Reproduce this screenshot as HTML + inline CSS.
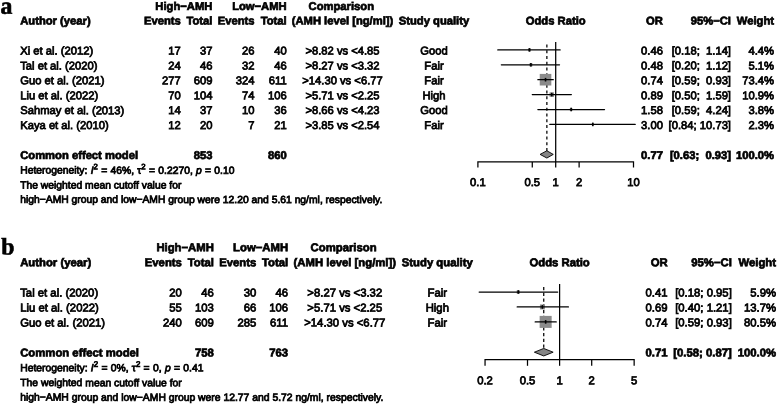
<!DOCTYPE html>
<html><head><meta charset="utf-8"><title>Forest plot</title>
<style>
html,body{margin:0;padding:0;background:#fff;}
body{width:777px;height:405px;overflow:hidden;}
svg{display:block;}
text{font-family:"Liberation Sans",Arial,Helvetica,sans-serif;fill:#000;stroke:#000;stroke-width:0.75px;}
.b{font-weight:bold;stroke-width:0.7px;}
.i{font-style:italic;}
.lab{font-family:"Liberation Serif","Times New Roman",serif;font-weight:bold;stroke-width:0.6px;}
.r{text-anchor:end;}
.c{text-anchor:middle;}
.ln{stroke:#000;stroke-width:1.25;fill:none;}
</style></head><body>
<svg width="777" height="405" viewBox="0 0 777 405">
<rect width="777" height="405" fill="#fff"/>
<g font-size="11.22">
<text x="0.6" y="13.8" transform="rotate(0.03 0.6 13.8)" class="lab" font-size="23.8">a</text>
<text x="20.2" y="24.6" transform="rotate(0.03 20.2 24.6)" class="b">Author (year)</text>
<text x="212.4" y="9.9" transform="rotate(0.03 212.4 9.9)" class="b r">High−AMH</text>
<text x="180.8" y="24.6" transform="rotate(0.03 180.8 24.6)" class="b r">Events</text>
<text x="212.4" y="24.6" transform="rotate(0.03 212.4 24.6)" class="b r">Total</text>
<text x="286.7" y="9.9" transform="rotate(0.03 286.7 9.9)" class="b r">Low−AMH</text>
<text x="254.5" y="24.6" transform="rotate(0.03 254.5 24.6)" class="b r">Events</text>
<text x="286.7" y="24.6" transform="rotate(0.03 286.7 24.6)" class="b r">Total</text>
<text x="341.3" y="9.9" transform="rotate(0.03 341.3 9.9)" class="b c">Comparison</text>
<text x="342.5" y="24.6" transform="rotate(0.03 342.5 24.6)" class="b c">(AMH level [ng/ml])</text>
<text x="434" y="24.6" transform="rotate(0.03 434 24.6)" class="b c">Study quality</text>
<text x="555.7" y="24.6" transform="rotate(0.03 555.7 24.6)" class="b c">Odds Ratio</text>
<text x="662.9" y="24.6" transform="rotate(0.03 662.9 24.6)" class="b r">OR</text>
<text x="731" y="24.6" transform="rotate(0.03 731 24.6)" class="b r">95%−CI</text>
<text x="774" y="24.6" transform="rotate(0.03 774 24.6)" class="b r">Weight</text>
<line x1="555.7" y1="42.1" x2="555.7" y2="161.9" class="ln"/>
<line x1="546.87" y1="44.4" x2="546.87" y2="158" class="ln" stroke-dasharray="3.2 2.55"/>
<rect x="528.04" y="48.48" width="2.84" height="2.84" fill="#8b8b8b"/>
<rect x="529.37" y="63.27" width="3.06" height="3.06" fill="#8b8b8b"/>
<rect x="539.73" y="73.9" width="11.6" height="11.6" fill="#8b8b8b"/>
<rect x="549.53" y="92.36" width="4.47" height="4.47" fill="#8b8b8b"/>
<rect x="569.84" y="108.18" width="2.64" height="2.64" fill="#8b8b8b"/>
<rect x="591.79" y="123.37" width="2.05" height="2.05" fill="#8b8b8b"/>
<text x="20.2" y="54.5" transform="rotate(0.03 20.2 54.5)">Xi et al. (2012)</text>
<text x="180.8" y="54.5" transform="rotate(0.03 180.8 54.5)" class="r">17</text>
<text x="212.4" y="54.5" transform="rotate(0.03 212.4 54.5)" class="r">37</text>
<text x="254.5" y="54.5" transform="rotate(0.03 254.5 54.5)" class="r">26</text>
<text x="286.7" y="54.5" transform="rotate(0.03 286.7 54.5)" class="r">40</text>
<text x="342.5" y="54.5" transform="rotate(0.03 342.5 54.5)" class="c">&gt;8.82 vs &lt;4.85</text>
<text x="434" y="54.5" transform="rotate(0.03 434 54.5)" class="c">Good</text>
<line x1="497.76" y1="49.9" x2="560.13" y2="49.9" class="ln" stroke-linecap="round"/>
<rect x="528.66" y="48.1" width="1.6" height="3.6" fill="#000"/>
<text x="662.9" y="54.5" transform="rotate(0.03 662.9 54.5)" class="r">0.46</text>
<text x="731" y="54.5" transform="rotate(0.03 731 54.5)" class="r" xml:space="preserve">[0.18;  1.14]</text>
<text x="774" y="54.5" transform="rotate(0.03 774 54.5)" class="r">4.4%</text>
<text x="20.2" y="69.4" transform="rotate(0.03 20.2 69.4)">Tal et al. (2020)</text>
<text x="180.8" y="69.4" transform="rotate(0.03 180.8 69.4)" class="r">24</text>
<text x="212.4" y="69.4" transform="rotate(0.03 212.4 69.4)" class="r">46</text>
<text x="254.5" y="69.4" transform="rotate(0.03 254.5 69.4)" class="r">32</text>
<text x="286.7" y="69.4" transform="rotate(0.03 286.7 69.4)" class="r">46</text>
<text x="342.5" y="69.4" transform="rotate(0.03 342.5 69.4)" class="c">&gt;8.27 vs &lt;3.32</text>
<text x="434" y="69.4" transform="rotate(0.03 434 69.4)" class="c">Fair</text>
<line x1="501.32" y1="64.8" x2="559.53" y2="64.8" class="ln" stroke-linecap="round"/>
<rect x="530.1" y="63" width="1.6" height="3.6" fill="#000"/>
<text x="662.9" y="69.4" transform="rotate(0.03 662.9 69.4)" class="r">0.48</text>
<text x="731" y="69.4" transform="rotate(0.03 731 69.4)" class="r" xml:space="preserve">[0.20;  1.12]</text>
<text x="774" y="69.4" transform="rotate(0.03 774 69.4)" class="r">5.1%</text>
<text x="20.2" y="84.3" transform="rotate(0.03 20.2 84.3)">Guo et al. (2021)</text>
<text x="180.8" y="84.3" transform="rotate(0.03 180.8 84.3)" class="r">277</text>
<text x="212.4" y="84.3" transform="rotate(0.03 212.4 84.3)" class="r">609</text>
<text x="254.5" y="84.3" transform="rotate(0.03 254.5 84.3)" class="r">324</text>
<text x="286.7" y="84.3" transform="rotate(0.03 286.7 84.3)" class="r">611</text>
<text x="342.5" y="84.3" transform="rotate(0.03 342.5 84.3)" class="c">&gt;14.30 vs &lt;6.77</text>
<text x="434" y="84.3" transform="rotate(0.03 434 84.3)" class="c">Fair</text>
<line x1="537.87" y1="79.7" x2="553.25" y2="79.7" class="ln" stroke-linecap="round"/>
<rect x="544.73" y="77.9" width="1.6" height="3.6" fill="#000"/>
<text x="662.9" y="84.3" transform="rotate(0.03 662.9 84.3)" class="r">0.74</text>
<text x="731" y="84.3" transform="rotate(0.03 731 84.3)" class="r" xml:space="preserve">[0.59;  0.93]</text>
<text x="774" y="84.3" transform="rotate(0.03 774 84.3)" class="r">73.4%</text>
<text x="20.2" y="99.2" transform="rotate(0.03 20.2 99.2)">Liu et al. (2022)</text>
<text x="180.8" y="99.2" transform="rotate(0.03 180.8 99.2)" class="r">70</text>
<text x="212.4" y="99.2" transform="rotate(0.03 212.4 99.2)" class="r">104</text>
<text x="254.5" y="99.2" transform="rotate(0.03 254.5 99.2)" class="r">74</text>
<text x="286.7" y="99.2" transform="rotate(0.03 286.7 99.2)" class="r">106</text>
<text x="342.5" y="99.2" transform="rotate(0.03 342.5 99.2)" class="c">&gt;5.71 vs &lt;2.25</text>
<text x="434" y="99.2" transform="rotate(0.03 434 99.2)" class="c">High</text>
<line x1="532.28" y1="94.6" x2="571.37" y2="94.6" class="ln" stroke-linecap="round"/>
<rect x="550.96" y="92.8" width="1.6" height="3.6" fill="#000"/>
<text x="662.9" y="99.2" transform="rotate(0.03 662.9 99.2)" class="r">0.89</text>
<text x="731" y="99.2" transform="rotate(0.03 731 99.2)" class="r" xml:space="preserve">[0.50;  1.59]</text>
<text x="774" y="99.2" transform="rotate(0.03 774 99.2)" class="r">10.9%</text>
<text x="20.2" y="114.1" transform="rotate(0.03 20.2 114.1)">Sahmay et al. (2013)</text>
<text x="180.8" y="114.1" transform="rotate(0.03 180.8 114.1)" class="r">14</text>
<text x="212.4" y="114.1" transform="rotate(0.03 212.4 114.1)" class="r">37</text>
<text x="254.5" y="114.1" transform="rotate(0.03 254.5 114.1)" class="r">10</text>
<text x="286.7" y="114.1" transform="rotate(0.03 286.7 114.1)" class="r">36</text>
<text x="342.5" y="114.1" transform="rotate(0.03 342.5 114.1)" class="c">&gt;8.66 vs &lt;4.23</text>
<text x="434" y="114.1" transform="rotate(0.03 434 114.1)" class="c">Good</text>
<line x1="537.87" y1="109.5" x2="604.51" y2="109.5" class="ln" stroke-linecap="round"/>
<rect x="570.36" y="107.7" width="1.6" height="3.6" fill="#000"/>
<text x="662.9" y="114.1" transform="rotate(0.03 662.9 114.1)" class="r">1.58</text>
<text x="731" y="114.1" transform="rotate(0.03 731 114.1)" class="r" xml:space="preserve">[0.59;  4.24]</text>
<text x="774" y="114.1" transform="rotate(0.03 774 114.1)" class="r">3.8%</text>
<text x="20.2" y="129" transform="rotate(0.03 20.2 129)">Kaya et al. (2010)</text>
<text x="180.8" y="129" transform="rotate(0.03 180.8 129)" class="r">12</text>
<text x="212.4" y="129" transform="rotate(0.03 212.4 129)" class="r">20</text>
<text x="254.5" y="129" transform="rotate(0.03 254.5 129)" class="r">7</text>
<text x="286.7" y="129" transform="rotate(0.03 286.7 129)" class="r">21</text>
<text x="342.5" y="129" transform="rotate(0.03 342.5 129)" class="c">&gt;3.85 vs &lt;2.54</text>
<text x="434" y="129" transform="rotate(0.03 434 129)" class="c">Fair</text>
<line x1="549.81" y1="124.4" x2="635.2" y2="124.4" class="ln" stroke-linecap="round"/>
<rect x="592.02" y="122.6" width="1.6" height="3.6" fill="#000"/>
<text x="662.9" y="129" transform="rotate(0.03 662.9 129)" class="r">3.00</text>
<text x="731" y="129" transform="rotate(0.03 731 129)" class="r" xml:space="preserve">[0.84; 10.73]</text>
<text x="774" y="129" transform="rotate(0.03 774 129)" class="r">2.3%</text>
<text x="20.2" y="159" transform="rotate(0.03 20.2 159)" class="b">Common effect model</text>
<text x="212.4" y="159" transform="rotate(0.03 212.4 159)" class="b r">853</text>
<text x="286.7" y="159" transform="rotate(0.03 286.7 159)" class="b r">860</text>
<polygon points="540.09,154.4 546.87,150.75 553.25,154.4 546.87,158.05" fill="#858585" stroke="#000" stroke-width="0.9" stroke-linejoin="miter"/>
<text x="662.9" y="159" transform="rotate(0.03 662.9 159)" class="b r">0.77</text>
<text x="731" y="159" transform="rotate(0.03 731 159)" class="b r" xml:space="preserve">[0.63;  0.93]</text>
<text x="774" y="159" transform="rotate(0.03 774 159)" class="b r">100.0%</text>
<text x="20.2" y="173.6" transform="rotate(0.03 20.2 173.6)" font-size="10.33" word-spacing="0.4">Heterogeneity: <tspan class="i">I</tspan><tspan dy="-4.4" font-size="7.85">2</tspan><tspan dy="4.4"> = 46%, τ</tspan><tspan dy="-4.4" font-size="7.85">2</tspan><tspan dy="4.4"> = 0.2270, </tspan><tspan class="i">p</tspan> = 0.10</text>
<text x="20.2" y="188.4" transform="rotate(0.03 20.2 188.4)" font-size="10.33">The weighted mean cutoff value for</text>
<text x="20.2" y="202.8" transform="rotate(0.03 20.2 202.8)" font-size="10.33">high−AMH group and low−AMH group were 12.20 and 5.61 ng/ml, respectively.</text>
<path d="M477.9 167.6V161.9H633.5V167.6" class="ln"/>
<line x1="532.28" y1="161.9" x2="532.28" y2="167.6" class="ln"/>
<line x1="555.7" y1="161.9" x2="555.7" y2="167.6" class="ln"/>
<line x1="579.12" y1="161.9" x2="579.12" y2="167.6" class="ln"/>
<text x="477.9" y="186.1" transform="rotate(0.03 477.9 186.1)" class="c">0.1</text>
<text x="532.28" y="186.1" transform="rotate(0.03 532.28 186.1)" class="c">0.5</text>
<text x="555.7" y="186.1" transform="rotate(0.03 555.7 186.1)" class="c">1</text>
<text x="579.12" y="186.1" transform="rotate(0.03 579.12 186.1)" class="c">2</text>
<text x="633.5" y="186.1" transform="rotate(0.03 633.5 186.1)" class="c">10</text>
</g>
<g font-size="11.32">
<text x="1.2" y="254.5" transform="rotate(0.03 1.2 254.5)" class="lab" font-size="23.8">b</text>
<text x="20.2" y="266.3" transform="rotate(0.03 20.2 266.3)" class="b">Author (year)</text>
<text x="213.9" y="251.3" transform="rotate(0.03 213.9 251.3)" class="b r">High−AMH</text>
<text x="181.9" y="266.3" transform="rotate(0.03 181.9 266.3)" class="b r">Events</text>
<text x="213.9" y="266.3" transform="rotate(0.03 213.9 266.3)" class="b r">Total</text>
<text x="288.1" y="251.3" transform="rotate(0.03 288.1 251.3)" class="b r">Low−AMH</text>
<text x="256.3" y="266.3" transform="rotate(0.03 256.3 266.3)" class="b r">Events</text>
<text x="288.1" y="266.3" transform="rotate(0.03 288.1 266.3)" class="b r">Total</text>
<text x="343.6" y="251.3" transform="rotate(0.03 343.6 251.3)" class="b c">Comparison</text>
<text x="344.8" y="266.3" transform="rotate(0.03 344.8 266.3)" class="b c">(AMH level [ng/ml])</text>
<text x="437.3" y="266.3" transform="rotate(0.03 437.3 266.3)" class="b c">Study quality</text>
<text x="559.6" y="266.3" transform="rotate(0.03 559.6 266.3)" class="b c">Odds Ratio</text>
<text x="667.6" y="266.3" transform="rotate(0.03 667.6 266.3)" class="b r">OR</text>
<text x="731.8" y="266.3" transform="rotate(0.03 731.8 266.3)" class="b r">95%−CI</text>
<text x="776" y="266.3" transform="rotate(0.03 776 266.3)" class="b r">Weight</text>
<line x1="559.6" y1="284" x2="559.6" y2="359.5" class="ln"/>
<line x1="543.74" y1="287.1" x2="543.74" y2="356" class="ln" stroke-dasharray="3.2 2.55"/>
<rect x="516.68" y="290.38" width="3.25" height="3.25" fill="#8b8b8b"/>
<rect x="539.94" y="304.47" width="4.95" height="4.95" fill="#8b8b8b"/>
<rect x="539.65" y="315.9" width="12" height="12" fill="#8b8b8b"/>
<text x="20.2" y="296.5" transform="rotate(0.03 20.2 296.5)">Tal et al. (2020)</text>
<text x="181.9" y="296.5" transform="rotate(0.03 181.9 296.5)" class="r">20</text>
<text x="213.9" y="296.5" transform="rotate(0.03 213.9 296.5)" class="r">46</text>
<text x="256.3" y="296.5" transform="rotate(0.03 256.3 296.5)" class="r">30</text>
<text x="288.1" y="296.5" transform="rotate(0.03 288.1 296.5)" class="r">46</text>
<text x="344.8" y="296.5" transform="rotate(0.03 344.8 296.5)" class="c">&gt;8.27 vs &lt;3.32</text>
<text x="437.3" y="296.5" transform="rotate(0.03 437.3 296.5)" class="c">Fair</text>
<line x1="479.13" y1="292" x2="557.71" y2="292" class="ln" stroke-linecap="round"/>
<rect x="517.5" y="290.2" width="1.6" height="3.6" fill="#000"/>
<text x="667.6" y="296.5" transform="rotate(0.03 667.6 296.5)" class="r">0.41</text>
<text x="731.8" y="296.5" transform="rotate(0.03 731.8 296.5)" class="r" xml:space="preserve">[0.18; 0.95]</text>
<text x="776" y="296.5" transform="rotate(0.03 776 296.5)" class="r">5.9%</text>
<text x="20.2" y="311.45" transform="rotate(0.03 20.2 311.45)">Liu et al. (2022)</text>
<text x="181.9" y="311.45" transform="rotate(0.03 181.9 311.45)" class="r">55</text>
<text x="213.9" y="311.45" transform="rotate(0.03 213.9 311.45)" class="r">103</text>
<text x="256.3" y="311.45" transform="rotate(0.03 256.3 311.45)" class="r">66</text>
<text x="288.1" y="311.45" transform="rotate(0.03 288.1 311.45)" class="r">106</text>
<text x="344.8" y="311.45" transform="rotate(0.03 344.8 311.45)" class="c">&gt;5.71 vs &lt;2.25</text>
<text x="437.3" y="311.45" transform="rotate(0.03 437.3 311.45)" class="c">High</text>
<line x1="517.16" y1="306.95" x2="568.43" y2="306.95" class="ln" stroke-linecap="round"/>
<rect x="541.61" y="305.15" width="1.6" height="3.6" fill="#000"/>
<text x="667.6" y="311.45" transform="rotate(0.03 667.6 311.45)" class="r">0.69</text>
<text x="731.8" y="311.45" transform="rotate(0.03 731.8 311.45)" class="r" xml:space="preserve">[0.40; 1.21]</text>
<text x="776" y="311.45" transform="rotate(0.03 776 311.45)" class="r">13.7%</text>
<text x="20.2" y="326.4" transform="rotate(0.03 20.2 326.4)">Guo et al. (2021)</text>
<text x="181.9" y="326.4" transform="rotate(0.03 181.9 326.4)" class="r">240</text>
<text x="213.9" y="326.4" transform="rotate(0.03 213.9 326.4)" class="r">609</text>
<text x="256.3" y="326.4" transform="rotate(0.03 256.3 326.4)" class="r">285</text>
<text x="288.1" y="326.4" transform="rotate(0.03 288.1 326.4)" class="r">611</text>
<text x="344.8" y="326.4" transform="rotate(0.03 344.8 326.4)" class="c">&gt;14.30 vs &lt;6.77</text>
<text x="437.3" y="326.4" transform="rotate(0.03 437.3 326.4)" class="c">Fair</text>
<line x1="535.16" y1="321.9" x2="556.24" y2="321.9" class="ln" stroke-linecap="round"/>
<rect x="544.85" y="320.1" width="1.6" height="3.6" fill="#000"/>
<text x="667.6" y="326.4" transform="rotate(0.03 667.6 326.4)" class="r">0.74</text>
<text x="731.8" y="326.4" transform="rotate(0.03 731.8 326.4)" class="r" xml:space="preserve">[0.59; 0.93]</text>
<text x="776" y="326.4" transform="rotate(0.03 776 326.4)" class="r">80.5%</text>
<text x="20.2" y="356.5" transform="rotate(0.03 20.2 356.5)" class="b">Common effect model</text>
<text x="213.9" y="356.5" transform="rotate(0.03 213.9 356.5)" class="b r">758</text>
<text x="288.1" y="356.5" transform="rotate(0.03 288.1 356.5)" class="b r">763</text>
<polygon points="534.37,352.2 543.74,348.45 553.15,352.2 543.74,355.95" fill="#858585" stroke="#000" stroke-width="0.9" stroke-linejoin="miter"/>
<text x="667.6" y="356.5" transform="rotate(0.03 667.6 356.5)" class="b r">0.71</text>
<text x="731.8" y="356.5" transform="rotate(0.03 731.8 356.5)" class="b r" xml:space="preserve">[0.58; 0.87]</text>
<text x="776" y="356.5" transform="rotate(0.03 776 356.5)" class="b r">100.0%</text>
<text x="20.2" y="371.2" transform="rotate(0.03 20.2 371.2)" font-size="10.37" word-spacing="0.4">Heterogeneity: <tspan class="i">I</tspan><tspan dy="-4.4" font-size="7.88">2</tspan><tspan dy="4.4"> = 0%, τ</tspan><tspan dy="-4.4" font-size="7.88">2</tspan><tspan dy="4.4"> = 0, </tspan><tspan class="i">p</tspan> = 0.41</text>
<text x="20.2" y="386.1" transform="rotate(0.03 20.2 386.1)" font-size="10.37">The weighted mean cutoff value for</text>
<text x="20.2" y="400.6" transform="rotate(0.03 20.2 400.6)" font-size="10.37">high−AMH group and low−AMH group were 12.77 and 5.72 ng/ml, respectively.</text>
<path d="M485.05 365.8V359.5H634.15V365.8" class="ln"/>
<line x1="527.5" y1="359.5" x2="527.5" y2="365.8" class="ln"/>
<line x1="559.6" y1="359.5" x2="559.6" y2="365.8" class="ln"/>
<line x1="591.7" y1="359.5" x2="591.7" y2="365.8" class="ln"/>
<text x="485.05" y="384.3" transform="rotate(0.03 485.05 384.3)" class="c">0.2</text>
<text x="527.5" y="384.3" transform="rotate(0.03 527.5 384.3)" class="c">0.5</text>
<text x="559.6" y="384.3" transform="rotate(0.03 559.6 384.3)" class="c">1</text>
<text x="591.7" y="384.3" transform="rotate(0.03 591.7 384.3)" class="c">2</text>
<text x="634.15" y="384.3" transform="rotate(0.03 634.15 384.3)" class="c">5</text>
</g>
</svg>
</body></html>
